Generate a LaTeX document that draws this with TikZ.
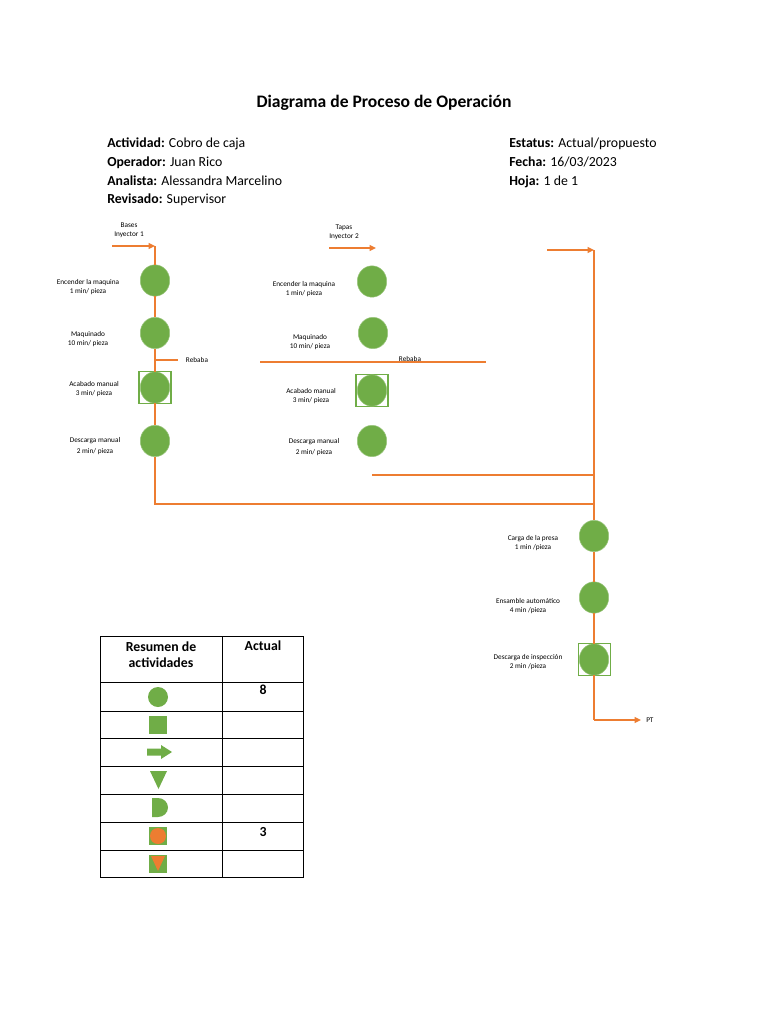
\documentclass[tikz,border=0pt]{standalone}
\usepackage{fontspec}
\setmainfont{Carlito}
\usetikzlibrary{arrows.meta,shapes.geometric}
\definecolor{opgreen}{HTML}{70AD47}
\definecolor{floworange}{HTML}{ED7D31}
\tikzset{
  op/.style={ellipse, fill=opgreen, draw=opgreen!70!white, minimum width=23.5pt, minimum height=25pt, inner sep=0pt},
  inspbox/.style={rectangle, draw=opgreen, line width=1pt, minimum width=25.5pt, minimum height=26pt, inner sep=0pt},
  flow/.style={floworange, line width=1.3pt},
  flowarrow/.style={flow, -{Triangle[length=5pt,width=4.5pt]}},
  tag/.style={font=\fontsize{5.8}{7.2}\selectfont, align=center, inner sep=0pt},
  head/.style={font=\fontsize{11}{13}\selectfont, anchor=base west, inner sep=0pt},
  cell/.style={font=\bfseries\fontsize{11}{12.8}\selectfont, align=center, inner sep=0pt},
}
\begin{document}
\begin{tikzpicture}[x=0.797pt, y=-0.797pt]
\useasboundingbox[fill=white] (0,0) rectangle (768,1024);
% title and header
\node[font=\bfseries\fontsize{14}{16}\selectfont, inner sep=0pt] (title) at (384,103) {Diagrama de Proceso de Operación};
\node[head] (act) at (107,147) {\textbf{Actividad:} Cobro de caja};
\node[head] (oper) at (107,166) {\textbf{Operador:} Juan Rico};
\node[head] (anal) at (107,185) {\textbf{Analista:} Alessandra Marcelino};
\node[head] (rev) at (107,203) {\textbf{Revisado:} Supervisor};
\node[head] (est) at (509,147) {\textbf{Estatus:} Actual/propuesto};
\node[head] (fecha) at (509,166) {\textbf{Fecha:} 16/03/2023};
\node[head] (hoja) at (509,185) {\textbf{Hoja:} 1 de 1};

% injector 1
\node[tag] (in1t) at (129,230) {Bases\\Inyector 1};
\coordinate (in1) at (112,246);
\coordinate (in1c) at (155,246);
\node[op] (enc1) at (155,280.5) {};
\node[op] (maq1) at (155,333) {};
\node[inspbox] (aca1b) at (155,387.5) {};
\node[op] (aca1) at (155,387.5) {};
\node[op] (des1) at (155,441) {};
\coordinate (reb1s) at (155,360);
\coordinate (reb1) at (178,360);
\coordinate (j1) at (155,504);
\coordinate (j2) at (594,504);
\node[tag] (enc1t) at (88,287) {Encender la maquina\\1 min/ pieza};
\node[tag] (maq1t) at (88,339) {Maquinado\\10 min/ pieza};
\node[tag] (aca1t) at (94,389) {Acabado manual\\3 min/ pieza};
\node[tag] (des1t) at (95,446) {Descarga manual\\[1.5pt]2 min/ pieza};
\node[tag] (reb1t) at (197,360) {Rebaba};
\draw[flowarrow] (in1) -- (in1c);
\draw[flow] (in1c) -- (enc1) -- (maq1) -- (aca1) -- (des1) -- (j1) -- (j2);
\draw[flow] (reb1s) -- (reb1);

% injector 2
\node[tag] (in2t) at (344,232) {Tapas\\Inyector 2};
\coordinate (in2) at (329,248);
\coordinate (in2c) at (376,248);
\node[op] (enc2) at (372,281.5) {};
\node[op] (maq2) at (373,333) {};
\node[inspbox] (aca2b) at (372,390.5) {};
\node[op] (aca2) at (372,390.5) {};
\node[op] (des2) at (372,441) {};
\node[tag] (enc2t) at (304,289) {Encender la maquina\\1 min/ pieza};
\node[tag] (maq2t) at (310,342) {Maquinado\\10 min/ pieza};
\node[tag] (aca2t) at (311,396) {Acabado manual\\3 min/ pieza};
\node[tag] (des2t) at (314,447) {Descarga manual\\[1.5pt]2 min/ pieza};
\coordinate (reb2s) at (260,362);
\coordinate (reb2) at (486,362);
\node[tag] (reb2t) at (410,359) {Rebaba};
\coordinate (k1) at (372,475);
\coordinate (k2) at (594,475);
\draw[flowarrow] (in2) -- (in2c);
\draw[flow] (reb2s) -- (reb2);
\draw[flow] (k1) -- (k2);

% assembly
\coordinate (in3) at (547,250);
\coordinate (in3c) at (594,250);
\node[op] (car) at (594,536) {};
\node[op] (ens) at (594,597.5) {};
\node[inspbox] (insb) at (594.5,659.5) {};
\node[op] (ins) at (594,659.5) {};
\coordinate (pt1) at (594,720);
\coordinate (pt2) at (641,720);
\node[tag] (cart) at (533,543.5) {Carga de la presa\\1 min /pieza};
\node[tag] (enst) at (528,606) {Ensamble automático\\4 min /pieza};
\node[tag] (inst) at (528,662.5) {Descarga de inspección\\2 min /pieza};
\node[tag, anchor=west] (ptt) at (646,720) {PT};
\draw[flowarrow] (in3) -- (in3c);
\draw[flow] (in3c) -- (car) -- (ens) -- (ins) -- (pt1);
\draw[flowarrow] (pt1) -- (pt2);

% summary table
\draw[line width=0.7pt] (100,636) rectangle (303,877);
\draw[line width=0.7pt] (222,636) -- (222,877);
\foreach \y in {682,711,738,766,794,822,850}
  \draw[line width=0.7pt] (100,\y) -- (303,\y);
\node[cell] (resumen) at (161,655) {Resumen de\\actividades};
\node[cell] (actual) at (263,646) {Actual};
\node[cell] (nop) at (263,690) {8};
\node[cell] (ncomb) at (263,832) {3};
\fill[opgreen] (158,697) circle[radius=10];
\fill[opgreen] (149,715.5) rectangle (167,733.5);
\fill[opgreen] (147,748.5) -- (161,748.5) -- (161,745) -- (172,752) -- (161,759) -- (161,755.5) -- (147,755.5) -- cycle;
\fill[opgreen] (150,771) -- (167,771) -- (158.5,789) -- cycle;
\fill[opgreen] (152,798) -- (158,798) arc[start angle=-90, end angle=90, x radius=10, y radius=9.5] -- (152,817) -- cycle;
\fill[opgreen] (149,827) rectangle (167,845);
\fill[floworange] (158,836) circle[radius=8];
\fill[opgreen] (149,855) rectangle (167,873);
\fill[floworange] (151,856) -- (165,856) -- (158,871) -- cycle;
\end{tikzpicture}
\end{document}
